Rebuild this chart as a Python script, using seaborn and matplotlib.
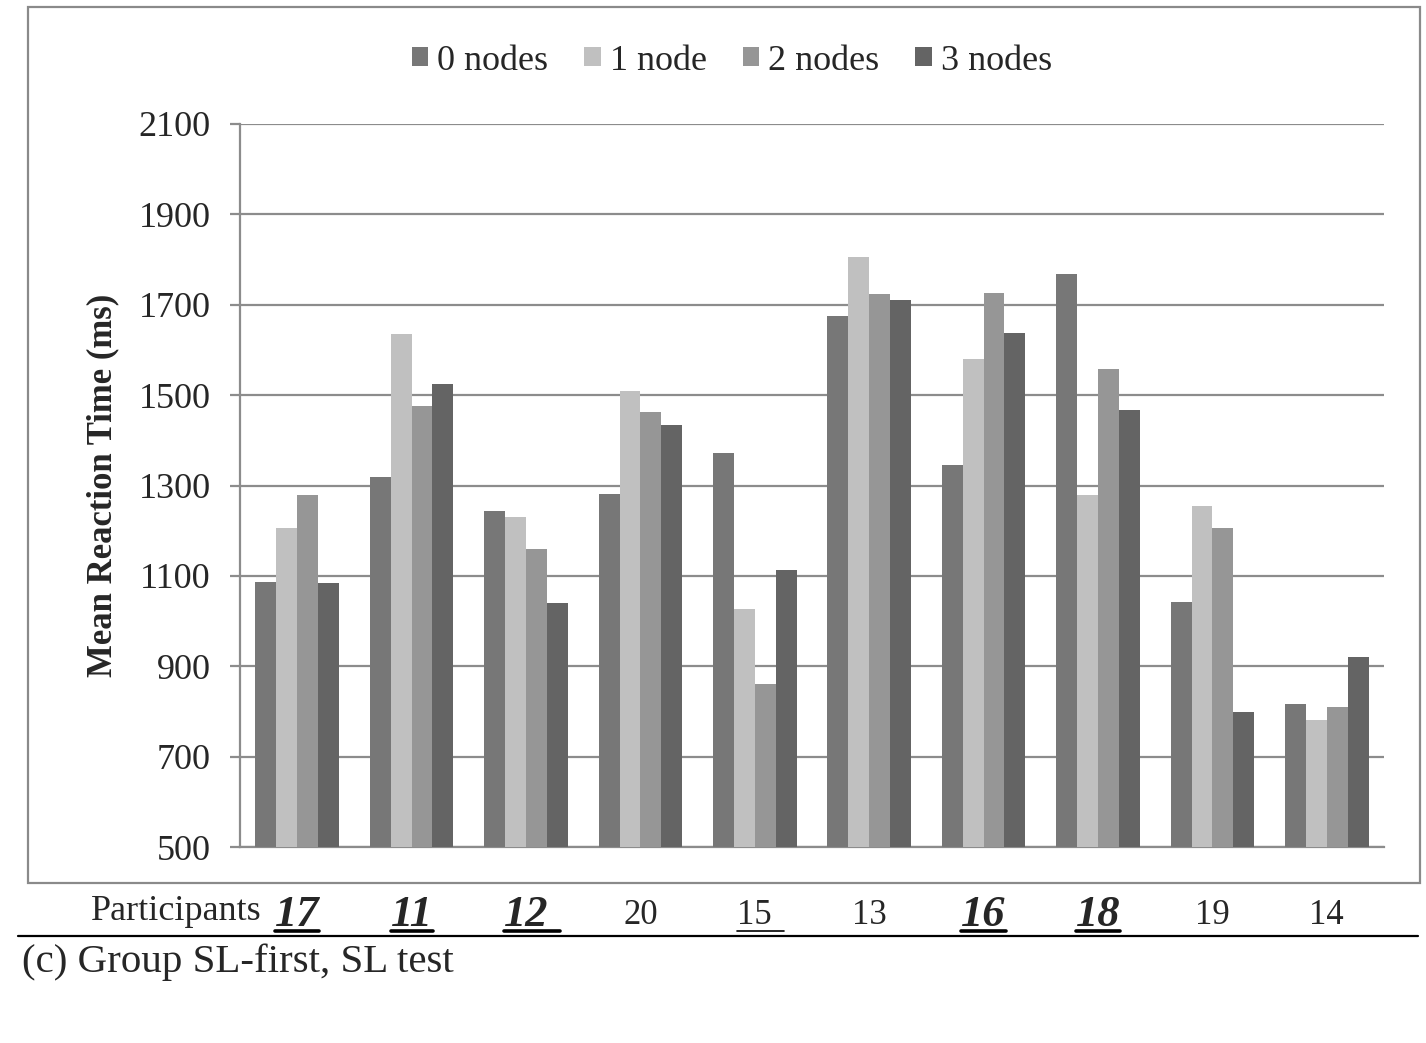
import pandas as pd
import numpy as np
import seaborn as sns
import matplotlib.pyplot as plt
from matplotlib.patches import Rectangle
from matplotlib.lines import Line2D

# participants in the order shown
participants = ['17', '11', '12', '20', '15', '13', '16', '18', '19', '14']
bold_ids = ['17', '11', '12', '16', '18']
underline_ids = ['17', '11', '12', '15', '16', '18']

nodes = ['0 nodes', '1 node', '2 nodes', '3 nodes']

# mean reaction time (ms) per participant, one list per condition
rt_0 = [1086, 1319, 1244, 1281, 1373, 1674, 1345, 1769, 1042, 817]
rt_1 = [1206, 1635, 1230, 1510, 1027, 1805, 1580, 1278, 1255, 781]
rt_2 = [1279, 1477, 1159, 1462, 861, 1723, 1725, 1558, 1207, 809]
rt_3 = [1085, 1524, 1041, 1433, 1112, 1711, 1637, 1466, 799, 920]

colores = ['#777777', '#c0c0c0', '#969696', '#646464']

df = pd.DataFrame({
    'Participant': participants * 4,
    'Nodes': np.repeat(nodes, len(participants)),
    'RT': rt_0 + rt_1 + rt_2 + rt_3,
})

sns.set_style('white')
plt.rcParams['font.family'] = ['Liberation Serif', 'DejaVu Serif']

fig = plt.figure(figsize=(14.26, 10.43), dpi=100)
ax = fig.add_axes([240/1426, 1 - 847/1043, (1384-240)/1426, (847-124)/1043])

sns.barplot(data=df, x='Participant', y='RT', hue='Nodes', order=participants,
            hue_order=nodes, palette=colores, width=0.73, saturation=1,
            edgecolor='none', linewidth=0, ax=ax, zorder=3)

gris = '#8c8c8c'
ax.set_ylim(500, 2100)
ax.set_yticks(range(500, 2101, 200))
ax.yaxis.grid(True, color=gris, linewidth=1.6, zorder=0)
ax.set_axisbelow(True)
for s in ['top', 'right']:
    ax.spines[s].set_visible(False)
ax.spines['left'].set_color(gris)
ax.spines['left'].set_linewidth(1.6)
ax.spines['bottom'].set_color(gris)
ax.spines['bottom'].set_linewidth(1.6)
ax.tick_params(axis='y', which='major', left=True, length=7, width=1.6,
               color=gris, labelsize=26, pad=14)
ax.tick_params(axis='x', length=0, pad=49, labelsize=25)
ax.set_xlabel('')
ax.set_ylabel('Mean Reaction Time (ms)', fontsize=25, fontweight='bold', labelpad=14)

# legend along the top
h, l = ax.get_legend_handles_labels()
ax.legend(h, l, loc='center', bbox_to_anchor=(0.43, 1 + (124-61)/723), ncol=4,
          frameon=False, fontsize=26, handlelength=0.45, handleheight=0.45,
          handletextpad=0.25, columnspacing=1.0)

# participant labels styling
for t in ax.get_xticklabels():
    t.set_va('center')
    if t.get_text() in bold_ids:
        t.set_fontweight('bold')
        t.set_fontstyle('italic')
        t.set_fontsize(32)
    else:
        t.set_fontsize(25)

fig.text(262/1426, 1 - 912/1043, 'Participants', fontsize=26, ha='right', va='center')

# outer frame around the chart
fig.patches.append(Rectangle((28/1426, 1 - 883/1043), (1420-28)/1426, (883-7)/1043,
                             transform=fig.transFigure, fill=False,
                             edgecolor='#8a8a8a', linewidth=1.6))

# rule and caption
fig.add_artist(Line2D([18/1426, 1418/1426], [1 - 936/1043, 1 - 936/1043],
                      transform=fig.transFigure, color='black', linewidth=1.6))
fig.text(22/1426, 1 - 962/1043, '(c) Group SL-first, SL test', fontsize=29.5,
         ha='left', va='center')

# underline some participant ids
fig.canvas.draw()
r = fig.canvas.get_renderer()
inv = fig.transFigure.inverted()
for t in ax.get_xticklabels():
    txt = t.get_text()
    if txt in underline_ids:
        bb = t.get_window_extent(r)
        x0, x1 = bb.x0, bb.x1
        if txt in ['12', '15']:
            x1 = x1 + 12
        yc = (bb.y0 + bb.y1) / 2
        y = yc - 16
        p0 = inv.transform((x0, y))
        p1 = inv.transform((x1, y))
        lw = 2.6 if txt in bold_ids else 1.2
        fig.add_artist(Line2D([p0[0], p1[0]], [p0[1], p1[1]],
                              transform=fig.transFigure, color='black', linewidth=lw))

fig.savefig('out.png', dpi=100)
